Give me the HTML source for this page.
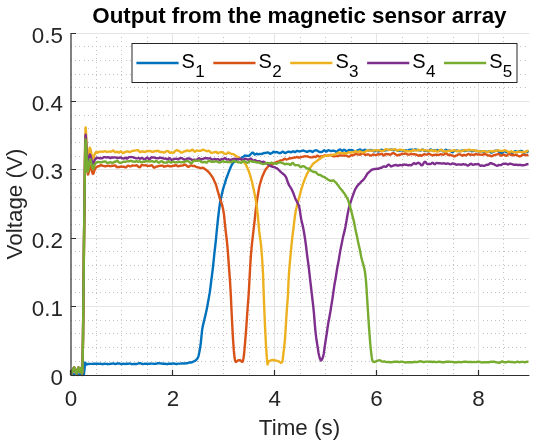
<!DOCTYPE html>
<html><head><meta charset="utf-8"><title>Output from the magnetic sensor array</title>
<style>html,body{margin:0;padding:0;background:#fff}body{width:550px;height:445px;overflow:hidden}</style>
</head><body>
<svg width="550" height="445" viewBox="0 0 550 445" style="display:block;font-family:'Liberation Sans',sans-serif">
<rect width="550" height="445" fill="#fff"/>
<path d="M96.5,33.0 V375.0 M121.5,33.0 V375.0 M147.5,33.0 V375.0 M198.5,33.0 V375.0 M223.5,33.0 V375.0 M249.5,33.0 V375.0 M300.5,33.0 V375.0 M325.5,33.0 V375.0 M351.5,33.0 V375.0 M402.5,33.0 V375.0 M427.5,33.0 V375.0 M453.5,33.0 V375.0 M503.5,33.0 V375.0 M71.0,361.5 H529.4 M71.0,347.5 H529.4 M71.0,333.5 H529.4 M71.0,320.5 H529.4 M71.0,292.5 H529.4 M71.0,279.5 H529.4 M71.0,265.5 H529.4 M71.0,251.5 H529.4 M71.0,224.5 H529.4 M71.0,210.5 H529.4 M71.0,197.5 H529.4 M71.0,183.5 H529.4 M71.0,156.5 H529.4 M71.0,142.5 H529.4 M71.0,128.5 H529.4 M71.0,115.5 H529.4 M71.0,87.5 H529.4 M71.0,74.5 H529.4 M71.0,60.5 H529.4 M71.0,46.5 H529.4" stroke="#c2c2c2" stroke-width="1" stroke-dasharray="1 3.2" fill="none" shape-rendering="crispEdges"/>
<path d="M172.5,33.0 V375.0 M274.5,33.0 V375.0 M376.5,33.0 V375.0 M478.5,33.0 V375.0 M71.0,306.5 H529.4 M71.0,238.5 H529.4 M71.0,169.5 H529.4 M71.0,101.5 H529.4 M71.0,33.5 H529.4" stroke="#e4e4e4" stroke-width="1" fill="none"/>
<path d="M71.0,375.0 L71.8,373.9 L72.5,373.5 L73.2,374.2 L74.0,375.0 L74.8,374.7 L75.5,374.2 L76.0,374.0 L76.2,374.0 L77.0,374.5 L77.8,375.0 L78.0,375.0 L78.5,374.8 L79.2,374.3 L80.0,374.0 L80.8,374.3 L81.5,374.8 L82.0,375.0 L82.2,375.0 L83.0,374.9 L83.8,374.6 L83.9,374.5 L84.5,369.1 L85.2,362.6 L85.2,362.6 L86.0,363.9 L86.5,364.5 L86.8,364.5 L87.5,364.1 L88.0,364.0 L88.2,364.0 L89.0,364.0 L89.8,363.9 L90.5,363.9 L91.2,363.9 L92.0,363.9 L92.8,363.9 L93.5,363.8 L94.2,363.8 L95.0,363.8 L95.8,363.8 L96.5,363.8 L97.2,363.6 L98.0,363.8 L98.8,363.9 L99.5,363.8 L100.2,363.8 L101.0,363.9 L101.8,364.0 L102.5,364.2 L103.2,364.0 L104.0,363.8 L104.8,363.8 L105.5,363.9 L106.2,363.9 L107.0,364.0 L107.8,364.0 L108.5,364.1 L109.2,364.1 L110.0,363.9 L110.8,363.7 L111.5,363.7 L112.2,363.6 L113.0,363.5 L113.8,363.5 L114.5,363.8 L115.2,364.0 L116.0,363.9 L116.8,363.6 L117.5,363.5 L118.2,363.5 L119.0,363.4 L119.8,363.5 L120.5,363.8 L121.2,364.1 L122.0,364.0 L122.8,363.8 L123.5,363.7 L124.2,363.9 L125.0,364.0 L125.8,363.9 L126.5,363.8 L127.2,363.8 L128.0,363.7 L128.8,363.6 L129.5,363.5 L130.2,363.6 L131.0,363.8 L131.8,364.1 L132.5,364.1 L133.2,364.0 L134.0,364.0 L134.8,364.0 L135.5,364.0 L136.2,364.0 L137.0,363.8 L137.8,363.6 L138.5,363.4 L139.2,363.2 L140.0,363.1 L140.8,363.3 L141.5,363.6 L142.2,364.0 L143.0,364.1 L143.8,363.9 L144.5,363.7 L145.2,363.8 L146.0,363.9 L146.8,363.8 L147.5,363.9 L148.2,363.9 L149.0,363.8 L149.8,363.7 L150.5,363.6 L151.2,363.6 L152.0,363.6 L152.8,363.6 L153.5,363.8 L154.2,363.9 L155.0,363.9 L155.8,363.8 L156.5,363.6 L157.2,363.4 L158.0,363.2 L158.8,363.3 L159.5,363.4 L160.2,363.4 L161.0,363.5 L161.8,363.5 L162.5,363.7 L163.2,363.8 L164.0,363.8 L164.8,363.8 L165.5,363.8 L166.2,364.0 L167.0,364.2 L167.8,364.0 L168.5,363.7 L169.2,363.6 L170.0,363.7 L170.8,363.8 L171.5,363.8 L172.2,363.6 L173.0,363.5 L173.8,363.4 L174.5,363.6 L175.2,363.9 L176.0,364.0 L176.8,364.0 L177.5,363.8 L178.2,363.6 L179.0,363.6 L179.8,363.6 L180.5,363.6 L181.2,363.6 L182.0,363.4 L182.8,363.3 L183.5,363.5 L184.2,363.6 L185.0,363.4 L185.8,363.3 L186.5,363.4 L187.2,363.3 L188.0,363.0 L188.8,362.7 L189.5,362.5 L190.2,362.4 L191.0,362.5 L191.8,362.4 L192.5,362.0 L193.2,361.7 L194.0,361.3 L194.8,360.9 L195.5,360.4 L196.2,359.8 L197.0,359.0 L197.8,357.9 L198.5,356.1 L199.2,352.8 L200.0,348.5 L200.8,343.1 L201.5,335.8 L202.2,329.3 L203.0,325.1 L203.8,321.9 L204.5,319.0 L205.2,316.1 L206.0,312.7 L206.8,309.1 L207.5,305.3 L208.2,301.3 L209.0,296.9 L209.8,292.2 L210.5,286.9 L211.2,281.2 L212.0,275.1 L212.8,268.7 L213.5,262.0 L214.2,255.1 L215.0,248.0 L215.8,240.8 L216.5,233.7 L217.2,226.6 L218.0,219.0 L218.8,212.0 L219.5,206.5 L220.2,201.9 L221.0,198.0 L221.8,194.6 L222.5,191.5 L223.2,188.6 L224.0,186.0 L224.8,183.5 L225.5,181.1 L226.2,178.8 L227.0,176.7 L227.8,174.6 L228.5,172.7 L229.2,170.8 L230.0,168.9 L230.8,167.1 L231.5,165.4 L232.2,164.1 L233.0,163.0 L233.8,162.2 L234.5,161.4 L235.2,160.7 L236.0,159.9 L236.8,159.3 L237.5,158.9 L238.2,158.6 L239.0,158.3 L239.8,158.3 L240.5,158.4 L241.2,158.1 L242.0,157.4 L242.8,157.0 L243.5,156.7 L244.2,156.0 L245.0,155.5 L245.8,155.6 L246.5,155.9 L247.2,155.9 L248.0,155.7 L248.8,155.7 L249.5,155.6 L250.2,154.8 L251.0,153.8 L251.8,153.1 L252.5,152.6 L253.2,152.6 L254.0,153.7 L254.8,154.6 L255.5,154.4 L256.2,153.8 L257.0,153.8 L257.8,154.3 L258.5,154.3 L259.2,154.0 L260.0,153.9 L260.8,153.9 L261.5,154.1 L262.2,153.9 L263.0,153.4 L263.8,153.0 L264.5,152.9 L265.2,153.0 L266.0,152.9 L266.8,152.6 L267.5,152.5 L268.2,152.5 L269.0,152.8 L269.8,153.6 L270.5,153.8 L271.2,153.3 L272.0,153.0 L272.8,152.3 L273.5,151.7 L274.2,152.0 L275.0,152.4 L275.8,152.3 L276.5,152.0 L277.2,152.1 L278.0,152.6 L278.8,153.0 L279.5,153.0 L280.2,153.0 L281.0,152.9 L281.8,152.2 L282.5,151.6 L283.2,151.7 L284.0,152.6 L284.8,153.1 L285.5,153.0 L286.2,152.6 L287.0,152.2 L287.8,151.8 L288.5,151.6 L289.2,151.6 L290.0,152.0 L290.8,152.4 L291.5,152.2 L292.2,151.6 L293.0,151.3 L293.8,151.6 L294.5,152.1 L295.2,152.1 L296.0,151.6 L296.8,151.0 L297.5,150.9 L298.2,151.2 L299.0,151.5 L299.8,151.4 L300.5,151.1 L301.2,151.0 L302.0,150.8 L302.8,150.5 L303.5,150.5 L304.2,150.9 L305.0,151.2 L305.8,151.4 L306.5,151.8 L307.2,151.9 L308.0,151.4 L308.8,151.0 L309.5,151.0 L310.2,150.9 L311.0,151.0 L311.8,151.6 L312.5,152.0 L313.2,151.5 L314.0,150.8 L314.8,150.5 L315.5,150.4 L316.2,150.3 L317.0,150.5 L317.8,151.0 L318.5,151.4 L319.2,151.8 L320.0,152.1 L320.8,152.0 L321.5,152.0 L322.2,151.9 L323.0,151.2 L323.8,150.4 L324.5,150.3 L325.2,151.0 L326.0,151.7 L326.8,151.4 L327.5,150.6 L328.2,150.2 L329.0,150.4 L329.8,150.7 L330.5,150.9 L331.2,151.0 L332.0,150.9 L332.8,150.8 L333.5,150.8 L334.2,150.9 L335.0,151.1 L335.8,151.6 L336.5,152.0 L337.2,151.5 L338.0,150.6 L338.8,150.0 L339.5,149.7 L340.2,149.5 L341.0,149.8 L341.8,150.7 L342.5,151.0 L343.2,150.4 L344.0,149.8 L344.8,149.9 L345.5,150.5 L346.2,151.4 L347.0,151.8 L347.8,151.2 L348.5,150.2 L349.2,149.9 L350.0,150.1 L350.8,150.1 L351.5,150.0 L352.2,150.1 L353.0,150.5 L353.8,151.2 L354.5,151.6 L355.2,151.4 L356.0,151.0 L356.8,150.7 L357.5,150.5 L358.2,150.2 L359.0,149.8 L359.8,149.5 L360.5,149.7 L361.2,150.4 L362.0,150.7 L362.8,150.8 L363.5,150.5 L364.2,149.9 L365.0,149.8 L365.8,150.4 L366.5,150.7 L367.2,150.8 L368.0,150.9 L368.8,150.5 L369.5,149.9 L370.2,150.0 L371.0,150.5 L371.8,150.4 L372.5,150.3 L373.2,150.9 L374.0,151.4 L374.8,151.3 L375.5,150.7 L376.2,150.3 L377.0,150.7 L377.8,151.4 L378.5,151.5 L379.2,151.2 L380.0,150.6 L380.8,150.0 L381.5,149.7 L382.2,150.0 L383.0,150.4 L383.8,150.5 L384.5,150.7 L385.2,150.5 L386.0,150.0 L386.8,149.8 L387.5,150.0 L388.2,150.0 L389.0,149.9 L389.8,149.8 L390.5,149.6 L391.2,149.5 L392.0,149.6 L392.8,150.1 L393.5,150.3 L394.2,150.0 L395.0,149.8 L395.8,149.9 L396.5,150.1 L397.2,150.5 L398.0,150.8 L398.8,150.9 L399.5,150.7 L400.2,150.5 L401.0,150.3 L401.8,150.3 L402.5,150.6 L403.2,150.7 L404.0,150.7 L404.8,150.4 L405.5,150.1 L406.2,150.3 L407.0,150.7 L407.8,150.7 L408.5,150.3 L409.2,149.9 L410.0,149.8 L410.8,149.9 L411.5,149.6 L412.2,149.5 L413.0,150.1 L413.8,150.4 L414.5,149.8 L415.2,149.4 L416.0,149.5 L416.8,149.8 L417.5,150.1 L418.2,150.1 L419.0,150.2 L419.8,150.5 L420.5,150.5 L421.2,150.3 L422.0,149.8 L422.8,149.5 L423.5,150.0 L424.2,150.8 L425.0,151.0 L425.8,150.9 L426.5,150.9 L427.2,151.0 L428.0,151.3 L428.8,151.2 L429.5,150.3 L430.2,149.5 L431.0,149.5 L431.8,150.0 L432.5,150.8 L433.2,150.9 L434.0,150.3 L434.8,150.0 L435.5,150.4 L436.2,150.5 L437.0,150.0 L437.8,150.2 L438.5,150.6 L439.2,150.7 L440.0,150.4 L440.8,150.0 L441.5,149.9 L442.2,150.5 L443.0,151.4 L443.8,151.5 L444.5,150.7 L445.2,150.0 L446.0,149.7 L446.8,150.2 L447.5,150.7 L448.2,150.8 L449.0,150.6 L449.8,150.5 L450.5,150.8 L451.2,151.5 L452.0,152.2 L452.8,152.2 L453.5,151.5 L454.2,150.8 L455.0,150.7 L455.8,150.6 L456.5,150.5 L457.2,150.6 L458.0,150.8 L458.8,151.1 L459.5,151.3 L460.2,151.2 L461.0,150.9 L461.8,150.6 L462.5,150.5 L463.2,150.7 L464.0,150.9 L464.8,151.1 L465.5,150.9 L466.2,150.6 L467.0,150.5 L467.8,150.4 L468.5,150.4 L469.2,150.3 L470.0,150.3 L470.8,150.8 L471.5,151.2 L472.2,151.2 L473.0,151.0 L473.8,150.8 L474.5,150.7 L475.2,150.8 L476.0,151.0 L476.8,151.0 L477.5,151.0 L478.2,151.3 L479.0,151.5 L479.8,151.4 L480.5,151.3 L481.2,151.2 L482.0,151.1 L482.8,151.4 L483.5,151.8 L484.2,151.9 L485.0,151.7 L485.8,151.4 L486.5,151.6 L487.2,151.9 L488.0,151.9 L488.8,151.5 L489.5,151.4 L490.2,151.9 L491.0,152.6 L491.8,152.5 L492.5,151.9 L493.2,151.4 L494.0,151.5 L494.8,151.1 L495.5,150.6 L496.2,150.6 L497.0,150.6 L497.8,150.7 L498.5,151.4 L499.2,152.0 L500.0,152.3 L500.8,152.7 L501.5,153.2 L502.2,153.1 L503.0,152.3 L503.8,151.5 L504.5,151.1 L505.2,151.4 L506.0,152.0 L506.8,152.3 L507.5,152.4 L508.2,152.3 L509.0,152.0 L509.8,152.1 L510.5,152.6 L511.2,152.9 L512.0,152.9 L512.8,152.6 L513.5,152.2 L514.2,151.8 L515.0,151.3 L515.8,151.3 L516.5,151.8 L517.2,152.1 L518.0,151.8 L518.8,151.3 L519.5,151.3 L520.2,151.2 L521.0,150.9 L521.8,150.9 L522.5,151.7 L523.2,152.5 L524.0,152.5 L524.8,152.3 L525.5,152.2 L526.2,151.8 L527.0,151.3 L527.8,151.9 L528.5,152.4" stroke="#0072BD" stroke-width="2.4" fill="none" stroke-linejoin="round" stroke-linecap="butt"/>
<path d="M71.0,375.0 L71.8,373.1 L72.5,371.2 L72.6,371.0 L73.2,369.2 L74.0,367.6 L74.2,367.5 L74.8,368.7 L75.4,371.0 L75.5,371.3 L76.2,373.3 L76.5,373.5 L77.0,372.1 L77.5,370.0 L77.8,369.2 L78.5,367.5 L79.2,370.9 L79.6,372.0 L80.0,371.2 L80.8,368.3 L81.0,368.0 L81.5,371.2 L81.9,373.5 L82.2,372.7 L82.4,372.0 L83.0,338.3 L83.8,262.0 L83.9,250.0 L84.5,201.2 L85.2,149.8 L85.6,142.0 L86.0,145.5 L86.8,159.3 L86.8,160.0 L87.5,170.7 L88.0,174.6 L88.2,174.3 L89.0,171.1 L89.8,167.1 L90.3,165.8 L90.5,165.9 L91.2,168.1 L92.0,171.5 L92.8,173.8 L93.0,174.0 L93.5,173.4 L94.2,171.0 L95.0,169.0 L95.8,167.9 L96.5,167.0 L97.2,166.9 L97.4,166.6 L98.0,166.2 L98.8,166.2 L99.5,166.1 L100.2,165.6 L101.0,165.1 L101.8,165.3 L102.5,165.8 L103.2,165.9 L104.0,166.0 L104.8,166.3 L105.5,166.4 L106.2,166.2 L107.0,166.0 L107.8,165.7 L108.5,165.6 L109.2,165.8 L110.0,166.2 L110.8,166.1 L111.5,165.8 L112.2,165.8 L113.0,165.9 L113.8,165.8 L114.5,165.4 L115.2,165.4 L116.0,166.3 L116.8,167.2 L117.5,167.1 L118.2,166.8 L119.0,167.0 L119.8,167.0 L120.5,166.6 L121.2,166.4 L122.0,166.7 L122.8,166.7 L123.5,166.6 L124.2,166.8 L125.0,167.3 L125.8,167.4 L126.5,166.9 L127.2,166.2 L128.0,165.7 L128.8,165.9 L129.5,166.2 L130.2,166.4 L131.0,166.3 L131.8,165.8 L132.5,165.4 L133.2,165.6 L134.0,165.6 L134.8,165.6 L135.5,165.5 L136.2,165.3 L137.0,165.4 L137.8,166.1 L138.5,166.8 L139.2,167.2 L140.0,167.1 L140.8,166.2 L141.5,165.2 L142.2,164.9 L143.0,165.1 L143.8,165.4 L144.5,165.4 L145.2,165.3 L146.0,165.3 L146.8,165.5 L147.5,165.8 L148.2,165.9 L149.0,165.9 L149.8,165.8 L150.5,165.6 L151.2,165.3 L152.0,165.4 L152.8,166.2 L153.5,167.3 L154.2,167.7 L155.0,167.4 L155.8,166.8 L156.5,166.5 L157.2,166.5 L158.0,166.3 L158.8,166.0 L159.5,165.9 L160.2,165.8 L161.0,165.7 L161.8,165.6 L162.5,165.6 L163.2,166.1 L164.0,166.7 L164.8,166.5 L165.5,166.2 L166.2,166.2 L167.0,166.0 L167.8,165.7 L168.5,165.8 L169.2,166.2 L170.0,166.3 L170.8,166.4 L171.5,166.4 L172.2,166.0 L173.0,165.8 L173.8,165.8 L174.5,165.7 L175.2,165.2 L176.0,165.1 L176.8,165.5 L177.5,166.1 L178.2,166.4 L179.0,166.2 L179.8,165.8 L180.5,165.7 L181.2,165.6 L182.0,165.6 L182.8,165.5 L183.5,165.0 L184.2,164.7 L185.0,164.8 L185.8,165.0 L186.5,165.5 L187.2,166.2 L188.0,166.7 L188.8,166.8 L189.5,166.2 L190.2,165.6 L191.0,165.4 L191.8,165.5 L192.5,165.8 L193.2,166.1 L194.0,165.9 L194.8,166.0 L195.5,166.5 L196.2,166.9 L197.0,167.1 L197.8,167.3 L198.5,167.5 L199.2,167.7 L200.0,168.0 L200.8,168.1 L201.5,168.0 L202.2,167.8 L203.0,167.8 L203.8,168.2 L204.5,168.8 L205.2,169.2 L206.0,169.8 L206.8,170.4 L207.5,170.9 L208.2,171.6 L209.0,172.5 L209.8,173.4 L210.5,174.4 L211.2,175.4 L212.0,176.5 L212.8,177.7 L213.5,179.1 L214.2,180.7 L215.0,182.4 L215.8,184.3 L216.5,186.5 L217.2,189.1 L218.0,191.9 L218.8,194.7 L219.5,197.3 L220.2,199.5 L221.0,201.7 L221.8,204.1 L222.5,206.7 L223.2,209.7 L224.0,214.6 L224.8,222.5 L225.5,229.3 L226.2,235.2 L227.0,242.0 L227.8,250.8 L228.5,260.7 L229.2,270.3 L230.0,280.8 L230.8,294.8 L231.5,310.0 L232.2,324.3 L233.0,338.8 L233.8,350.2 L234.5,357.3 L235.2,361.1 L236.0,362.0 L236.8,361.4 L237.5,360.8 L238.2,360.4 L239.0,360.1 L239.8,360.1 L240.5,360.6 L241.2,361.2 L242.0,361.9 L242.8,361.5 L243.5,358.0 L244.2,352.8 L245.0,343.7 L245.8,333.9 L246.5,324.3 L247.2,313.9 L248.0,303.0 L248.8,292.6 L249.5,279.1 L250.2,266.2 L251.0,254.2 L251.8,245.5 L252.5,238.9 L253.2,232.8 L254.0,226.2 L254.8,219.1 L255.5,212.2 L256.2,206.0 L257.0,200.5 L257.8,195.5 L258.5,191.2 L259.2,187.3 L260.0,184.0 L260.8,181.3 L261.5,179.0 L262.2,176.9 L263.0,175.0 L263.8,173.2 L264.5,171.6 L265.2,170.2 L266.0,169.0 L266.8,168.0 L267.5,167.2 L268.2,166.4 L269.0,165.7 L269.8,165.2 L270.5,165.0 L271.2,165.0 L272.0,164.7 L272.8,164.0 L273.5,163.4 L274.2,163.0 L275.0,162.8 L275.8,162.4 L276.5,162.0 L277.2,161.8 L278.0,161.7 L278.8,161.5 L279.5,161.0 L280.2,160.5 L281.0,160.4 L281.8,160.4 L282.5,160.2 L283.2,159.7 L284.0,159.0 L284.8,158.7 L285.5,159.2 L286.2,159.5 L287.0,159.3 L287.8,159.1 L288.5,158.9 L289.2,158.4 L290.0,158.1 L290.8,158.2 L291.5,158.2 L292.2,158.0 L293.0,157.9 L293.8,157.6 L294.5,157.5 L295.2,157.6 L296.0,157.3 L296.8,156.9 L297.5,157.1 L298.2,157.6 L299.0,157.7 L299.8,157.4 L300.5,157.3 L301.2,157.1 L302.0,156.9 L302.8,156.8 L303.5,156.6 L304.2,156.4 L305.0,156.3 L305.8,156.4 L306.5,156.4 L307.2,156.3 L308.0,156.5 L308.8,156.9 L309.5,157.1 L310.2,157.2 L311.0,157.4 L311.8,157.4 L312.5,157.3 L313.2,156.8 L314.0,156.6 L314.8,156.8 L315.5,157.1 L316.2,156.7 L317.0,155.7 L317.8,155.6 L318.5,156.2 L319.2,156.6 L320.0,156.6 L320.8,156.4 L321.5,156.4 L322.2,156.4 L323.0,156.2 L323.8,155.8 L324.5,155.4 L325.2,155.4 L326.0,155.7 L326.8,155.9 L327.5,155.7 L328.2,155.5 L329.0,155.4 L329.8,155.1 L330.5,154.8 L331.2,154.9 L332.0,155.5 L332.8,156.1 L333.5,156.3 L334.2,156.2 L335.0,156.2 L335.8,156.0 L336.5,155.9 L337.2,156.1 L338.0,156.1 L338.8,155.7 L339.5,155.5 L340.2,155.4 L341.0,155.4 L341.8,155.5 L342.5,155.6 L343.2,155.6 L344.0,155.5 L344.8,155.4 L345.5,155.5 L346.2,155.7 L347.0,156.0 L347.8,156.4 L348.5,156.6 L349.2,156.5 L350.0,156.0 L350.8,155.4 L351.5,155.2 L352.2,155.3 L353.0,155.3 L353.8,155.1 L354.5,154.6 L355.2,154.2 L356.0,154.0 L356.8,154.1 L357.5,154.4 L358.2,154.5 L359.0,154.5 L359.8,154.7 L360.5,154.5 L361.2,153.9 L362.0,153.5 L362.8,153.4 L363.5,153.5 L364.2,154.2 L365.0,154.8 L365.8,154.8 L366.5,154.6 L367.2,154.4 L368.0,154.5 L368.8,154.7 L369.5,154.9 L370.2,155.4 L371.0,155.6 L371.8,155.2 L372.5,154.7 L373.2,154.5 L374.0,154.6 L374.8,154.8 L375.5,155.0 L376.2,155.1 L377.0,154.8 L377.8,154.2 L378.5,154.2 L379.2,154.5 L380.0,154.3 L380.8,154.0 L381.5,153.8 L382.2,154.0 L383.0,154.8 L383.8,155.5 L384.5,155.2 L385.2,154.2 L386.0,153.9 L386.8,154.1 L387.5,154.4 L388.2,154.2 L389.0,154.3 L389.8,154.7 L390.5,154.7 L391.2,154.1 L392.0,153.5 L392.8,153.1 L393.5,153.1 L394.2,153.4 L395.0,153.9 L395.8,154.5 L396.5,155.0 L397.2,155.5 L398.0,155.2 L398.8,154.7 L399.5,154.8 L400.2,154.8 L401.0,154.2 L401.8,153.8 L402.5,153.8 L403.2,153.9 L404.0,153.9 L404.8,153.4 L405.5,153.4 L406.2,153.8 L407.0,154.3 L407.8,154.5 L408.5,154.6 L409.2,154.6 L410.0,154.3 L410.8,153.9 L411.5,153.8 L412.2,154.1 L413.0,154.3 L413.8,154.3 L414.5,154.1 L415.2,154.3 L416.0,154.7 L416.8,154.8 L417.5,155.1 L418.2,155.7 L419.0,155.6 L419.8,155.0 L420.5,155.2 L421.2,155.8 L422.0,155.6 L422.8,155.0 L423.5,154.5 L424.2,154.3 L425.0,154.3 L425.8,154.5 L426.5,154.6 L427.2,154.4 L428.0,154.1 L428.8,154.0 L429.5,154.0 L430.2,154.2 L431.0,154.7 L431.8,155.1 L432.5,155.2 L433.2,155.2 L434.0,155.0 L434.8,154.8 L435.5,154.7 L436.2,154.7 L437.0,154.8 L437.8,154.8 L438.5,155.0 L439.2,154.8 L440.0,154.4 L440.8,154.2 L441.5,154.3 L442.2,154.5 L443.0,154.7 L443.8,154.7 L444.5,154.1 L445.2,153.4 L446.0,153.4 L446.8,153.7 L447.5,154.5 L448.2,155.1 L449.0,155.0 L449.8,154.5 L450.5,154.8 L451.2,155.4 L452.0,155.5 L452.8,155.6 L453.5,156.1 L454.2,156.5 L455.0,156.2 L455.8,155.6 L456.5,155.3 L457.2,155.0 L458.0,154.6 L458.8,154.3 L459.5,154.4 L460.2,154.5 L461.0,154.9 L461.8,155.4 L462.5,155.7 L463.2,155.2 L464.0,154.9 L464.8,155.0 L465.5,155.3 L466.2,155.3 L467.0,154.7 L467.8,154.1 L468.5,153.9 L469.2,154.3 L470.0,154.8 L470.8,154.8 L471.5,154.5 L472.2,154.6 L473.0,154.9 L473.8,155.0 L474.5,154.7 L475.2,154.2 L476.0,154.0 L476.8,154.3 L477.5,154.6 L478.2,154.4 L479.0,154.4 L479.8,154.7 L480.5,154.6 L481.2,154.6 L482.0,154.7 L482.8,154.8 L483.5,154.4 L484.2,154.1 L485.0,154.2 L485.8,154.4 L486.5,154.6 L487.2,155.1 L488.0,155.5 L488.8,155.5 L489.5,155.4 L490.2,155.7 L491.0,156.1 L491.8,156.2 L492.5,155.9 L493.2,155.4 L494.0,155.1 L494.8,154.9 L495.5,154.7 L496.2,154.6 L497.0,154.5 L497.8,154.2 L498.5,154.0 L499.2,154.2 L500.0,154.9 L500.8,155.5 L501.5,155.6 L502.2,155.2 L503.0,154.8 L503.8,154.7 L504.5,154.9 L505.2,155.2 L506.0,155.6 L506.8,155.7 L507.5,155.0 L508.2,154.2 L509.0,153.8 L509.8,153.9 L510.5,154.4 L511.2,155.0 L512.0,155.0 L512.8,154.8 L513.5,155.2 L514.2,155.4 L515.0,155.0 L515.8,154.7 L516.5,154.8 L517.2,155.2 L518.0,155.7 L518.8,156.1 L519.5,156.3 L520.2,156.3 L521.0,156.0 L521.8,155.3 L522.5,154.7 L523.2,154.7 L524.0,154.9 L524.8,155.1 L525.5,155.1 L526.2,154.9 L527.0,155.0 L527.8,155.4 L528.5,155.3" stroke="#D95319" stroke-width="2.4" fill="none" stroke-linejoin="round" stroke-linecap="butt"/>
<path d="M71.0,375.0 L71.8,373.1 L72.5,371.2 L72.6,371.0 L73.2,369.2 L74.0,367.6 L74.2,367.5 L74.8,368.7 L75.4,371.0 L75.5,371.3 L76.2,373.3 L76.5,373.5 L77.0,372.1 L77.5,370.0 L77.8,369.2 L78.5,367.5 L79.2,370.9 L79.6,372.0 L80.0,371.2 L80.8,368.3 L81.0,368.0 L81.5,371.2 L81.9,373.5 L82.2,372.7 L82.4,372.0 L83.0,339.0 L83.8,262.6 L83.9,250.0 L84.5,195.7 L85.2,136.5 L85.6,127.4 L86.0,131.8 L86.8,149.1 L86.8,150.0 L87.5,161.9 L87.7,163.0 L88.2,160.1 L89.0,151.9 L89.7,147.6 L89.8,147.6 L90.5,149.3 L91.2,152.8 L92.0,156.5 L92.8,158.8 L93.0,159.0 L93.5,158.3 L94.2,155.7 L95.0,153.5 L95.8,152.4 L96.5,151.7 L96.7,151.7 L97.2,152.8 L98.0,152.5 L98.8,152.0 L99.5,151.7 L100.2,151.7 L101.0,151.6 L101.8,151.6 L102.5,151.8 L103.2,151.8 L104.0,151.4 L104.8,151.2 L105.5,151.4 L106.2,151.7 L107.0,152.0 L107.8,151.9 L108.5,151.7 L109.2,151.5 L110.0,151.6 L110.8,151.7 L111.5,151.6 L112.2,151.1 L113.0,150.5 L113.8,150.9 L114.5,151.8 L115.2,152.3 L116.0,152.1 L116.8,151.7 L117.5,151.7 L118.2,152.3 L119.0,152.6 L119.8,152.0 L120.5,151.4 L121.2,151.4 L122.0,152.3 L122.8,153.1 L123.5,153.0 L124.2,152.6 L125.0,152.1 L125.8,151.7 L126.5,151.6 L127.2,151.4 L128.0,151.4 L128.8,151.8 L129.5,152.1 L130.2,152.0 L131.0,151.6 L131.8,151.1 L132.5,150.9 L133.2,150.9 L134.0,150.8 L134.8,150.5 L135.5,150.4 L136.2,150.4 L137.0,150.2 L137.8,150.1 L138.5,150.6 L139.2,151.4 L140.0,152.1 L140.8,152.1 L141.5,151.5 L142.2,151.3 L143.0,151.6 L143.8,151.7 L144.5,151.9 L145.2,152.0 L146.0,151.5 L146.8,150.9 L147.5,150.9 L148.2,151.3 L149.0,151.3 L149.8,150.9 L150.5,151.1 L151.2,151.6 L152.0,151.8 L152.8,151.7 L153.5,151.7 L154.2,151.5 L155.0,151.0 L155.8,151.1 L156.5,151.2 L157.2,150.9 L158.0,150.6 L158.8,151.2 L159.5,151.9 L160.2,152.0 L161.0,151.8 L161.8,152.0 L162.5,152.0 L163.2,152.3 L164.0,152.5 L164.8,152.3 L165.5,151.8 L166.2,151.4 L167.0,151.2 L167.8,151.0 L168.5,151.3 L169.2,152.3 L170.0,152.8 L170.8,152.6 L171.5,152.3 L172.2,152.6 L173.0,152.9 L173.8,152.6 L174.5,151.8 L175.2,151.0 L176.0,150.5 L176.8,150.2 L177.5,150.3 L178.2,150.8 L179.0,151.1 L179.8,151.4 L180.5,152.0 L181.2,152.6 L182.0,152.6 L182.8,152.2 L183.5,151.8 L184.2,151.4 L185.0,151.2 L185.8,151.1 L186.5,150.7 L187.2,150.4 L188.0,150.5 L188.8,151.0 L189.5,151.2 L190.2,150.9 L191.0,150.4 L191.8,149.9 L192.5,149.7 L193.2,150.2 L194.0,151.3 L194.8,151.7 L195.5,151.2 L196.2,150.6 L197.0,150.5 L197.8,150.7 L198.5,150.9 L199.2,150.9 L200.0,150.9 L200.8,150.8 L201.5,150.4 L202.2,150.0 L203.0,149.8 L203.8,149.9 L204.5,150.2 L205.2,150.5 L206.0,150.8 L206.8,151.1 L207.5,151.2 L208.2,150.9 L209.0,150.8 L209.8,151.4 L210.5,152.3 L211.2,152.9 L212.0,152.8 L212.8,152.6 L213.5,152.4 L214.2,152.3 L215.0,152.2 L215.8,151.8 L216.5,152.0 L217.2,153.0 L218.0,153.3 L218.8,152.7 L219.5,152.4 L220.2,152.4 L221.0,152.2 L221.8,152.0 L222.5,152.3 L223.2,152.9 L224.0,153.4 L224.8,153.7 L225.5,153.9 L226.2,153.9 L227.0,153.4 L227.8,152.8 L228.5,152.4 L229.2,152.8 L230.0,153.4 L230.8,153.7 L231.5,153.9 L232.2,154.0 L233.0,154.1 L233.8,154.5 L234.5,154.9 L235.2,155.5 L236.0,156.2 L236.8,156.5 L237.5,156.7 L238.2,157.1 L239.0,157.7 L239.8,158.4 L240.5,159.0 L241.2,159.6 L242.0,160.1 L242.8,160.7 L243.5,161.5 L244.2,162.4 L245.0,163.5 L245.8,164.6 L246.5,165.9 L247.2,167.5 L248.0,169.3 L248.8,171.3 L249.5,173.4 L250.2,175.7 L251.0,178.3 L251.8,181.0 L252.5,184.0 L253.2,187.3 L254.0,190.9 L254.8,194.7 L255.5,198.6 L256.2,202.9 L257.0,208.0 L257.8,215.1 L258.5,223.4 L259.2,231.4 L260.0,237.4 L260.8,243.1 L261.5,250.3 L262.2,260.0 L263.0,273.4 L263.8,296.4 L264.5,314.2 L265.2,329.8 L266.0,345.6 L266.8,357.2 L267.5,364.5 L268.2,362.7 L269.0,361.1 L269.8,360.8 L270.5,360.5 L271.2,360.3 L272.0,360.2 L272.8,360.0 L273.5,359.9 L274.2,360.3 L275.0,360.5 L275.8,360.5 L276.5,360.6 L277.2,360.9 L278.0,361.2 L278.8,361.4 L279.5,361.8 L280.2,362.4 L281.0,362.9 L281.8,362.5 L282.5,361.2 L283.2,355.7 L284.0,348.6 L284.8,341.3 L285.5,331.6 L286.2,319.5 L287.0,307.6 L287.8,297.5 L288.5,281.8 L289.2,270.2 L290.0,260.8 L290.8,252.6 L291.5,245.1 L292.2,238.4 L293.0,232.0 L293.8,225.3 L294.5,219.3 L295.2,214.2 L296.0,210.0 L296.8,206.5 L297.5,203.5 L298.2,200.8 L299.0,198.0 L299.8,195.2 L300.5,192.4 L301.2,189.7 L302.0,187.1 L302.8,184.7 L303.5,182.6 L304.2,180.6 L305.0,178.6 L305.8,176.8 L306.5,175.1 L307.2,173.5 L308.0,172.0 L308.8,170.6 L309.5,169.2 L310.2,167.9 L311.0,166.7 L311.8,165.6 L312.5,164.6 L313.2,163.7 L314.0,163.0 L314.8,162.4 L315.5,161.9 L316.2,161.5 L317.0,160.9 L317.8,160.3 L318.5,159.8 L319.2,159.3 L320.0,158.7 L320.8,158.2 L321.5,157.6 L322.2,157.0 L323.0,156.8 L323.8,156.6 L324.5,156.1 L325.2,155.7 L326.0,155.7 L326.8,155.9 L327.5,155.7 L328.2,155.4 L329.0,155.2 L329.8,155.1 L330.5,155.2 L331.2,155.3 L332.0,155.0 L332.8,154.8 L333.5,154.9 L334.2,154.6 L335.0,154.5 L335.8,154.5 L336.5,154.0 L337.2,153.2 L338.0,152.8 L338.8,152.8 L339.5,152.7 L340.2,152.8 L341.0,153.0 L341.8,153.1 L342.5,153.1 L343.2,153.2 L344.0,153.2 L344.8,153.1 L345.5,153.4 L346.2,153.6 L347.0,153.3 L347.8,152.7 L348.5,152.3 L349.2,152.3 L350.0,152.6 L350.8,152.6 L351.5,152.3 L352.2,152.3 L353.0,152.4 L353.8,152.2 L354.5,151.7 L355.2,151.3 L356.0,151.3 L356.8,151.9 L357.5,152.3 L358.2,151.9 L359.0,151.4 L359.8,151.3 L360.5,151.5 L361.2,151.9 L362.0,152.3 L362.8,152.5 L363.5,152.4 L364.2,152.2 L365.0,151.9 L365.8,151.3 L366.5,150.8 L367.2,150.7 L368.0,150.7 L368.8,150.5 L369.5,150.3 L370.2,150.6 L371.0,150.7 L371.8,150.6 L372.5,150.6 L373.2,150.7 L374.0,150.5 L374.8,150.2 L375.5,150.2 L376.2,150.5 L377.0,150.6 L377.8,150.3 L378.5,150.1 L379.2,150.2 L380.0,150.5 L380.8,150.8 L381.5,150.9 L382.2,151.1 L383.0,151.1 L383.8,150.7 L384.5,150.2 L385.2,149.5 L386.0,149.1 L386.8,149.2 L387.5,149.6 L388.2,149.9 L389.0,149.9 L389.8,149.7 L390.5,149.6 L391.2,149.6 L392.0,149.6 L392.8,149.6 L393.5,149.5 L394.2,149.3 L395.0,149.3 L395.8,149.6 L396.5,150.2 L397.2,150.6 L398.0,150.4 L398.8,149.9 L399.5,149.7 L400.2,149.8 L401.0,149.8 L401.8,149.9 L402.5,150.2 L403.2,150.2 L404.0,150.2 L404.8,150.6 L405.5,151.0 L406.2,151.2 L407.0,151.2 L407.8,151.2 L408.5,151.4 L409.2,151.4 L410.0,151.2 L410.8,151.1 L411.5,150.9 L412.2,150.4 L413.0,150.1 L413.8,150.2 L414.5,150.3 L415.2,150.3 L416.0,150.5 L416.8,150.6 L417.5,150.2 L418.2,149.7 L419.0,150.0 L419.8,150.4 L420.5,150.2 L421.2,149.8 L422.0,149.7 L422.8,150.0 L423.5,150.4 L424.2,150.3 L425.0,150.2 L425.8,150.4 L426.5,150.6 L427.2,150.6 L428.0,150.4 L428.8,150.7 L429.5,151.0 L430.2,150.6 L431.0,150.1 L431.8,150.1 L432.5,150.5 L433.2,151.2 L434.0,151.2 L434.8,150.5 L435.5,150.3 L436.2,151.0 L437.0,151.5 L437.8,151.6 L438.5,151.2 L439.2,150.5 L440.0,150.0 L440.8,149.7 L441.5,150.0 L442.2,150.6 L443.0,151.2 L443.8,151.5 L444.5,151.2 L445.2,151.0 L446.0,151.4 L446.8,151.6 L447.5,151.2 L448.2,150.7 L449.0,150.9 L449.8,151.1 L450.5,150.8 L451.2,150.7 L452.0,150.9 L452.8,150.7 L453.5,150.3 L454.2,150.2 L455.0,150.4 L455.8,150.8 L456.5,151.2 L457.2,151.4 L458.0,151.0 L458.8,150.7 L459.5,150.9 L460.2,151.4 L461.0,151.5 L461.8,151.2 L462.5,150.8 L463.2,150.6 L464.0,150.5 L464.8,150.1 L465.5,150.0 L466.2,150.4 L467.0,150.5 L467.8,150.2 L468.5,149.8 L469.2,149.7 L470.0,149.9 L470.8,150.3 L471.5,150.3 L472.2,150.2 L473.0,150.3 L473.8,150.3 L474.5,150.4 L475.2,150.8 L476.0,150.8 L476.8,150.8 L477.5,151.1 L478.2,151.1 L479.0,151.2 L479.8,151.5 L480.5,151.6 L481.2,151.4 L482.0,151.3 L482.8,151.2 L483.5,151.2 L484.2,151.1 L485.0,151.3 L485.8,151.8 L486.5,151.9 L487.2,151.9 L488.0,152.1 L488.8,151.7 L489.5,151.2 L490.2,151.0 L491.0,151.2 L491.8,151.6 L492.5,151.6 L493.2,151.1 L494.0,150.9 L494.8,151.0 L495.5,150.9 L496.2,150.8 L497.0,150.6 L497.8,150.3 L498.5,150.4 L499.2,150.7 L500.0,150.9 L500.8,150.9 L501.5,150.9 L502.2,151.0 L503.0,150.9 L503.8,150.5 L504.5,150.2 L505.2,150.4 L506.0,150.7 L506.8,151.0 L507.5,151.4 L508.2,152.0 L509.0,152.3 L509.8,152.1 L510.5,151.5 L511.2,151.2 L512.0,151.6 L512.8,151.9 L513.5,152.0 L514.2,152.1 L515.0,152.2 L515.8,152.2 L516.5,152.1 L517.2,152.0 L518.0,151.8 L518.8,151.8 L519.5,151.8 L520.2,151.9 L521.0,151.9 L521.8,152.1 L522.5,152.1 L523.2,151.9 L524.0,151.8 L524.8,151.9 L525.5,152.0 L526.2,151.5 L527.0,150.8 L527.8,150.9 L528.5,151.3" stroke="#EDB120" stroke-width="2.4" fill="none" stroke-linejoin="round" stroke-linecap="butt"/>
<path d="M71.0,375.0 L71.8,373.1 L72.5,371.2 L72.6,371.0 L73.2,369.2 L74.0,367.6 L74.2,367.5 L74.8,368.7 L75.4,371.0 L75.5,371.3 L76.2,373.3 L76.5,373.5 L77.0,372.1 L77.5,370.0 L77.8,369.2 L78.5,367.5 L79.2,370.9 L79.6,372.0 L80.0,371.2 L80.8,368.3 L81.0,368.0 L81.5,371.2 L81.9,373.5 L82.2,372.7 L82.4,372.0 L83.0,338.6 L83.8,262.3 L83.9,250.0 L84.5,198.5 L85.2,143.2 L85.6,134.8 L86.0,138.7 L86.8,154.2 L86.8,155.0 L87.5,166.9 L87.7,168.0 L88.2,165.5 L89.0,158.2 L89.7,154.4 L89.8,154.4 L90.5,155.8 L91.2,158.8 L92.0,161.9 L92.8,163.8 L93.0,164.0 L93.5,163.4 L94.2,161.3 L95.0,159.5 L95.8,158.5 L96.5,157.8 L96.7,157.8 L97.2,158.1 L98.0,157.9 L98.8,158.0 L99.5,158.2 L100.2,158.2 L101.0,158.2 L101.8,158.4 L102.5,158.2 L103.2,157.6 L104.0,157.1 L104.8,157.1 L105.5,157.4 L106.2,157.5 L107.0,157.4 L107.8,157.3 L108.5,157.3 L109.2,157.6 L110.0,158.1 L110.8,158.0 L111.5,157.4 L112.2,157.3 L113.0,157.6 L113.8,157.6 L114.5,157.4 L115.2,157.4 L116.0,157.5 L116.8,157.9 L117.5,158.0 L118.2,157.9 L119.0,157.8 L119.8,157.5 L120.5,157.4 L121.2,157.8 L122.0,158.1 L122.8,158.3 L123.5,158.5 L124.2,158.3 L125.0,157.8 L125.8,157.9 L126.5,158.6 L127.2,158.6 L128.0,157.8 L128.8,157.2 L129.5,157.1 L130.2,157.1 L131.0,157.0 L131.8,157.1 L132.5,157.1 L133.2,157.3 L134.0,157.8 L134.8,157.9 L135.5,158.1 L136.2,158.4 L137.0,158.4 L137.8,158.2 L138.5,158.0 L139.2,158.2 L140.0,158.7 L140.8,158.5 L141.5,158.0 L142.2,158.1 L143.0,158.6 L143.8,159.1 L144.5,159.4 L145.2,159.1 L146.0,158.3 L146.8,157.8 L147.5,157.7 L148.2,158.2 L149.0,158.9 L149.8,159.2 L150.5,158.4 L151.2,157.4 L152.0,157.3 L152.8,157.5 L153.5,157.4 L154.2,157.5 L155.0,157.9 L155.8,158.2 L156.5,158.1 L157.2,158.1 L158.0,158.3 L158.8,158.1 L159.5,157.7 L160.2,157.6 L161.0,157.8 L161.8,158.0 L162.5,158.0 L163.2,158.3 L164.0,158.7 L164.8,158.6 L165.5,158.5 L166.2,158.7 L167.0,159.3 L167.8,159.4 L168.5,158.7 L169.2,158.1 L170.0,158.3 L170.8,159.3 L171.5,159.9 L172.2,159.8 L173.0,159.5 L173.8,159.0 L174.5,158.8 L175.2,158.9 L176.0,158.8 L176.8,158.8 L177.5,159.2 L178.2,159.3 L179.0,158.6 L179.8,158.3 L180.5,158.3 L181.2,158.1 L182.0,158.1 L182.8,158.7 L183.5,159.1 L184.2,159.5 L185.0,159.7 L185.8,159.4 L186.5,158.8 L187.2,158.5 L188.0,158.4 L188.8,158.5 L189.5,158.7 L190.2,158.8 L191.0,159.2 L191.8,159.8 L192.5,160.0 L193.2,159.9 L194.0,159.8 L194.8,159.8 L195.5,159.9 L196.2,159.9 L197.0,159.6 L197.8,158.9 L198.5,158.4 L199.2,158.3 L200.0,158.7 L200.8,159.3 L201.5,159.5 L202.2,159.1 L203.0,158.8 L203.8,158.5 L204.5,158.3 L205.2,158.2 L206.0,158.2 L206.8,158.2 L207.5,158.5 L208.2,158.6 L209.0,158.4 L209.8,158.2 L210.5,158.5 L211.2,159.1 L212.0,159.3 L212.8,159.5 L213.5,159.4 L214.2,158.9 L215.0,158.9 L215.8,159.5 L216.5,159.6 L217.2,159.2 L218.0,159.1 L218.8,159.5 L219.5,159.9 L220.2,159.9 L221.0,159.4 L221.8,159.0 L222.5,159.1 L223.2,159.2 L224.0,158.6 L224.8,158.0 L225.5,158.4 L226.2,159.2 L227.0,159.6 L227.8,159.4 L228.5,159.3 L229.2,159.7 L230.0,159.9 L230.8,159.8 L231.5,159.7 L232.2,159.4 L233.0,159.1 L233.8,158.9 L234.5,158.8 L235.2,158.9 L236.0,159.0 L236.8,159.1 L237.5,159.4 L238.2,159.5 L239.0,159.1 L239.8,158.7 L240.5,158.9 L241.2,159.3 L242.0,159.6 L242.8,159.6 L243.5,159.5 L244.2,159.1 L245.0,158.8 L245.8,158.8 L246.5,159.2 L247.2,159.5 L248.0,159.6 L248.8,159.8 L249.5,159.3 L250.2,158.6 L251.0,158.7 L251.8,159.4 L252.5,160.5 L253.2,161.0 L254.0,160.5 L254.8,160.2 L255.5,160.3 L256.2,160.7 L257.0,161.1 L257.8,161.2 L258.5,161.2 L259.2,161.3 L260.0,161.4 L260.8,161.8 L261.5,162.2 L262.2,162.2 L263.0,161.8 L263.8,161.8 L264.5,162.2 L265.2,162.8 L266.0,163.2 L266.8,163.4 L267.5,163.9 L268.2,164.5 L269.0,165.0 L269.8,165.5 L270.5,166.0 L271.2,166.3 L272.0,166.5 L272.8,166.9 L273.5,167.0 L274.2,167.1 L275.0,167.4 L275.8,167.8 L276.5,168.1 L277.2,168.6 L278.0,169.2 L278.8,170.0 L279.5,170.7 L280.2,171.4 L281.0,172.1 L281.8,172.8 L282.5,173.4 L283.2,174.0 L284.0,174.6 L284.8,175.4 L285.5,176.3 L286.2,177.5 L287.0,179.8 L287.8,182.3 L288.5,184.1 L289.2,185.4 L290.0,186.6 L290.8,187.8 L291.5,189.0 L292.2,190.5 L293.0,192.3 L293.8,194.3 L294.5,196.3 L295.2,198.2 L296.0,200.0 L296.8,201.4 L297.5,202.7 L298.2,204.1 L299.0,206.0 L299.8,209.8 L300.5,214.9 L301.2,219.3 L302.0,222.7 L302.8,225.9 L303.5,229.4 L304.2,233.5 L305.0,238.5 L305.8,244.2 L306.5,250.1 L307.2,255.9 L308.0,261.7 L308.8,267.7 L309.5,273.8 L310.2,280.2 L311.0,287.0 L311.8,293.8 L312.5,300.0 L313.2,305.8 L314.0,313.8 L314.8,324.2 L315.5,331.7 L316.2,337.7 L317.0,343.0 L317.8,348.1 L318.5,352.7 L319.2,356.0 L320.0,358.8 L320.8,360.5 L321.5,360.3 L322.2,359.0 L323.0,357.0 L323.8,353.5 L324.5,348.4 L325.2,343.4 L326.0,338.4 L326.8,333.2 L327.5,328.2 L328.2,323.5 L329.0,319.2 L329.8,315.1 L330.5,311.0 L331.2,306.4 L332.0,301.5 L332.8,296.4 L333.5,291.3 L334.2,286.4 L335.0,281.8 L335.8,277.2 L336.5,272.7 L337.2,268.3 L338.0,264.0 L338.8,259.7 L339.5,255.4 L340.2,251.2 L341.0,247.1 L341.8,243.3 L342.5,239.6 L343.2,236.3 L344.0,233.1 L344.8,229.9 L345.5,226.5 L346.2,222.6 L347.0,217.8 L347.8,213.2 L348.5,209.8 L349.2,206.8 L350.0,204.2 L350.8,201.7 L351.5,199.5 L352.2,197.3 L353.0,195.1 L353.8,193.0 L354.5,191.1 L355.2,189.4 L356.0,188.0 L356.8,186.8 L357.5,185.8 L358.2,184.9 L359.0,184.1 L359.8,183.3 L360.5,182.5 L361.2,181.7 L362.0,181.0 L362.8,180.3 L363.5,179.6 L364.2,178.7 L365.0,177.6 L365.8,176.3 L366.5,175.1 L367.2,173.9 L368.0,173.0 L368.8,172.3 L369.5,171.7 L370.2,171.1 L371.0,170.3 L371.8,169.7 L372.5,169.5 L373.2,169.3 L374.0,169.0 L374.8,169.0 L375.5,169.0 L376.2,168.8 L377.0,168.6 L377.8,168.8 L378.5,168.8 L379.2,168.3 L380.0,168.0 L380.8,167.8 L381.5,167.7 L382.2,167.2 L383.0,166.7 L383.8,166.5 L384.5,166.5 L385.2,166.7 L386.0,166.7 L386.8,166.2 L387.5,165.3 L388.2,164.7 L389.0,164.8 L389.8,165.3 L390.5,166.0 L391.2,166.5 L392.0,166.2 L392.8,165.8 L393.5,165.5 L394.2,165.3 L395.0,165.0 L395.8,164.9 L396.5,165.1 L397.2,165.5 L398.0,165.7 L398.8,165.5 L399.5,165.2 L400.2,165.0 L401.0,165.1 L401.8,165.2 L402.5,165.3 L403.2,164.9 L404.0,164.5 L404.8,164.6 L405.5,164.9 L406.2,164.8 L407.0,164.9 L407.8,165.3 L408.5,165.3 L409.2,165.0 L410.0,165.0 L410.8,165.3 L411.5,165.1 L412.2,164.5 L413.0,163.8 L413.8,163.2 L414.5,163.2 L415.2,163.8 L416.0,164.0 L416.8,163.5 L417.5,163.0 L418.2,162.8 L419.0,162.9 L419.8,163.4 L420.5,164.3 L421.2,165.2 L422.0,165.4 L422.8,164.6 L423.5,163.4 L424.2,162.2 L425.0,161.7 L425.8,162.3 L426.5,163.3 L427.2,164.0 L428.0,164.1 L428.8,164.0 L429.5,164.0 L430.2,164.1 L431.0,163.8 L431.8,163.1 L432.5,162.7 L433.2,163.1 L434.0,163.9 L434.8,164.2 L435.5,163.7 L436.2,163.1 L437.0,163.0 L437.8,163.1 L438.5,163.2 L439.2,163.2 L440.0,163.3 L440.8,163.4 L441.5,163.6 L442.2,163.5 L443.0,163.3 L443.8,163.3 L444.5,163.5 L445.2,163.7 L446.0,163.8 L446.8,163.7 L447.5,163.5 L448.2,163.5 L449.0,163.8 L449.8,164.1 L450.5,164.3 L451.2,164.1 L452.0,163.6 L452.8,163.5 L453.5,163.7 L454.2,163.8 L455.0,164.0 L455.8,164.5 L456.5,164.7 L457.2,164.6 L458.0,164.5 L458.8,164.4 L459.5,164.4 L460.2,164.6 L461.0,164.7 L461.8,164.6 L462.5,164.2 L463.2,164.1 L464.0,164.4 L464.8,164.6 L465.5,164.4 L466.2,164.6 L467.0,165.2 L467.8,165.6 L468.5,165.3 L469.2,164.8 L470.0,164.2 L470.8,163.7 L471.5,163.9 L472.2,164.5 L473.0,164.8 L473.8,164.6 L474.5,164.3 L475.2,164.3 L476.0,164.4 L476.8,164.3 L477.5,164.1 L478.2,164.0 L479.0,164.5 L479.8,165.3 L480.5,165.8 L481.2,165.7 L482.0,165.5 L482.8,165.6 L483.5,165.9 L484.2,165.9 L485.0,165.6 L485.8,165.1 L486.5,164.8 L487.2,164.8 L488.0,164.8 L488.8,164.4 L489.5,163.7 L490.2,163.2 L491.0,163.1 L491.8,163.4 L492.5,163.9 L493.2,164.0 L494.0,164.1 L494.8,164.7 L495.5,165.2 L496.2,165.5 L497.0,165.8 L497.8,165.6 L498.5,165.0 L499.2,165.0 L500.0,165.1 L500.8,165.1 L501.5,164.8 L502.2,164.3 L503.0,163.9 L503.8,163.8 L504.5,163.8 L505.2,163.7 L506.0,163.6 L506.8,163.8 L507.5,164.4 L508.2,164.5 L509.0,164.1 L509.8,163.6 L510.5,163.6 L511.2,163.9 L512.0,164.2 L512.8,164.5 L513.5,164.7 L514.2,164.7 L515.0,164.6 L515.8,164.7 L516.5,164.7 L517.2,164.8 L518.0,165.0 L518.8,165.0 L519.5,164.8 L520.2,164.8 L521.0,165.0 L521.8,165.3 L522.5,165.3 L523.2,165.2 L524.0,165.1 L524.8,165.1 L525.5,164.9 L526.2,164.3 L527.0,164.0 L527.8,164.4 L528.5,164.5" stroke="#7E2F8E" stroke-width="2.4" fill="none" stroke-linejoin="round" stroke-linecap="butt"/>
<path d="M71.0,375.0 L71.8,373.1 L72.5,371.2 L72.6,371.0 L73.2,369.2 L74.0,367.6 L74.2,367.5 L74.8,368.7 L75.4,371.0 L75.5,371.3 L76.2,373.3 L76.5,373.5 L77.0,372.1 L77.5,370.0 L77.8,369.2 L78.5,367.5 L79.2,370.9 L79.6,372.0 L80.0,371.2 L80.8,368.3 L81.0,368.0 L81.5,371.2 L81.9,373.5 L82.2,372.7 L82.4,372.0 L83.0,338.4 L83.8,262.1 L83.9,250.0 L84.5,200.2 L85.2,147.5 L85.6,139.5 L86.0,143.5 L86.8,159.2 L86.8,160.0 L87.5,171.0 L87.7,172.0 L88.2,170.1 L89.0,164.2 L89.8,159.4 L90.0,159.0 L90.5,159.7 L91.2,162.8 L92.0,166.4 L92.8,168.8 L93.0,169.0 L93.5,168.3 L94.2,166.0 L95.0,164.0 L95.8,163.1 L96.5,162.4 L97.2,161.9 L97.4,162.0 L98.0,161.9 L98.8,162.0 L99.5,162.3 L100.2,162.4 L101.0,162.2 L101.8,162.2 L102.5,162.0 L103.2,161.7 L104.0,161.6 L104.8,161.4 L105.5,161.6 L106.2,162.1 L107.0,162.8 L107.8,162.9 L108.5,162.7 L109.2,162.5 L110.0,162.4 L110.8,162.3 L111.5,162.5 L112.2,162.8 L113.0,162.9 L113.8,162.3 L114.5,161.8 L115.2,161.8 L116.0,161.5 L116.8,160.8 L117.5,160.7 L118.2,161.6 L119.0,162.4 L119.8,162.7 L120.5,162.8 L121.2,162.8 L122.0,162.4 L122.8,162.0 L123.5,161.6 L124.2,161.7 L125.0,161.9 L125.8,161.7 L126.5,161.4 L127.2,161.4 L128.0,161.4 L128.8,161.3 L129.5,161.3 L130.2,161.0 L131.0,160.7 L131.8,161.1 L132.5,161.5 L133.2,161.5 L134.0,161.6 L134.8,161.9 L135.5,161.7 L136.2,161.3 L137.0,161.3 L137.8,161.6 L138.5,161.7 L139.2,161.3 L140.0,161.4 L140.8,162.0 L141.5,162.3 L142.2,162.0 L143.0,161.7 L143.8,161.7 L144.5,161.8 L145.2,161.7 L146.0,161.3 L146.8,161.2 L147.5,161.2 L148.2,161.2 L149.0,161.4 L149.8,161.5 L150.5,161.4 L151.2,161.3 L152.0,161.1 L152.8,161.4 L153.5,161.8 L154.2,162.0 L155.0,161.7 L155.8,161.0 L156.5,160.9 L157.2,161.5 L158.0,162.3 L158.8,162.7 L159.5,162.3 L160.2,161.7 L161.0,161.4 L161.8,161.2 L162.5,161.6 L163.2,162.4 L164.0,162.6 L164.8,162.5 L165.5,162.6 L166.2,162.7 L167.0,162.5 L167.8,162.0 L168.5,161.3 L169.2,161.4 L170.0,162.2 L170.8,162.6 L171.5,162.4 L172.2,162.0 L173.0,161.7 L173.8,161.9 L174.5,162.3 L175.2,162.4 L176.0,162.3 L176.8,162.3 L177.5,162.4 L178.2,162.2 L179.0,161.9 L179.8,161.7 L180.5,162.1 L181.2,162.4 L182.0,162.1 L182.8,161.9 L183.5,162.2 L184.2,162.3 L185.0,161.8 L185.8,161.2 L186.5,161.1 L187.2,161.0 L188.0,161.1 L188.8,161.5 L189.5,162.0 L190.2,162.8 L191.0,163.4 L191.8,163.0 L192.5,162.1 L193.2,161.3 L194.0,160.9 L194.8,160.7 L195.5,160.7 L196.2,160.8 L197.0,160.9 L197.8,160.9 L198.5,160.7 L199.2,160.5 L200.0,160.8 L200.8,161.5 L201.5,162.1 L202.2,162.4 L203.0,162.4 L203.8,162.0 L204.5,161.8 L205.2,162.0 L206.0,162.6 L206.8,162.6 L207.5,161.8 L208.2,161.3 L209.0,161.0 L209.8,160.9 L210.5,161.2 L211.2,161.7 L212.0,161.9 L212.8,161.8 L213.5,161.8 L214.2,161.6 L215.0,161.5 L215.8,161.4 L216.5,161.4 L217.2,161.6 L218.0,162.0 L218.8,162.4 L219.5,162.5 L220.2,162.4 L221.0,162.0 L221.8,161.6 L222.5,161.2 L223.2,161.2 L224.0,161.6 L224.8,161.9 L225.5,161.9 L226.2,161.9 L227.0,161.9 L227.8,162.0 L228.5,162.2 L229.2,162.0 L230.0,161.9 L230.8,162.3 L231.5,162.3 L232.2,161.7 L233.0,161.0 L233.8,160.7 L234.5,161.1 L235.2,161.6 L236.0,161.6 L236.8,161.6 L237.5,162.0 L238.2,162.4 L239.0,162.3 L239.8,162.4 L240.5,162.7 L241.2,162.7 L242.0,162.2 L242.8,161.5 L243.5,161.1 L244.2,161.2 L245.0,161.6 L245.8,162.1 L246.5,162.5 L247.2,162.7 L248.0,162.6 L248.8,162.1 L249.5,161.4 L250.2,161.0 L251.0,161.2 L251.8,161.5 L252.5,161.7 L253.2,161.7 L254.0,161.6 L254.8,161.7 L255.5,162.1 L256.2,162.4 L257.0,162.5 L257.8,162.6 L258.5,162.4 L259.2,162.4 L260.0,163.0 L260.8,163.4 L261.5,163.5 L262.2,163.8 L263.0,164.1 L263.8,163.9 L264.5,163.7 L265.2,163.7 L266.0,163.4 L266.8,163.0 L267.5,163.0 L268.2,163.2 L269.0,163.2 L269.8,163.3 L270.5,163.2 L271.2,162.8 L272.0,162.8 L272.8,163.3 L273.5,163.6 L274.2,163.5 L275.0,163.3 L275.8,163.5 L276.5,163.8 L277.2,163.6 L278.0,163.0 L278.8,162.7 L279.5,162.4 L280.2,162.2 L281.0,162.5 L281.8,163.0 L282.5,163.1 L283.2,163.2 L284.0,163.8 L284.8,164.3 L285.5,164.1 L286.2,163.8 L287.0,163.9 L287.8,164.1 L288.5,164.0 L289.2,164.2 L290.0,164.8 L290.8,164.8 L291.5,163.8 L292.2,163.0 L293.0,163.2 L293.8,163.9 L294.5,164.7 L295.2,165.2 L296.0,165.1 L296.8,165.1 L297.5,165.1 L298.2,165.2 L299.0,165.6 L299.8,166.4 L300.5,167.2 L301.2,167.0 L302.0,166.3 L302.8,166.1 L303.5,166.2 L304.2,166.5 L305.0,167.0 L305.8,167.7 L306.5,168.3 L307.2,168.5 L308.0,168.5 L308.8,168.6 L309.5,169.1 L310.2,169.8 L311.0,170.5 L311.8,171.0 L312.5,171.4 L313.2,171.8 L314.0,172.0 L314.8,172.0 L315.5,172.0 L316.2,172.6 L317.0,173.6 L317.8,174.3 L318.5,174.7 L319.2,174.8 L320.0,175.0 L320.8,175.2 L321.5,175.7 L322.2,176.3 L323.0,176.7 L323.8,176.9 L324.5,177.3 L325.2,177.8 L326.0,178.2 L326.8,178.6 L327.5,179.2 L328.2,179.7 L329.0,180.1 L329.8,180.6 L330.5,180.9 L331.2,180.8 L332.0,180.7 L332.8,180.4 L333.5,180.5 L334.2,181.0 L335.0,181.8 L335.8,182.5 L336.5,183.3 L337.2,184.3 L338.0,185.3 L338.8,186.3 L339.5,187.4 L340.2,188.3 L341.0,189.2 L341.8,190.1 L342.5,191.0 L343.2,192.0 L344.0,193.0 L344.8,194.1 L345.5,195.3 L346.2,196.5 L347.0,197.9 L347.8,199.4 L348.5,201.3 L349.2,203.6 L350.0,206.3 L350.8,209.1 L351.5,211.9 L352.2,214.9 L353.0,218.0 L353.8,220.9 L354.5,224.3 L355.2,228.2 L356.0,232.0 L356.8,235.6 L357.5,239.1 L358.2,242.5 L359.0,246.0 L359.8,249.6 L360.5,253.1 L361.2,256.7 L362.0,260.0 L362.8,262.8 L363.5,265.3 L364.2,268.1 L365.0,272.0 L365.8,278.8 L366.5,288.0 L367.2,299.2 L368.0,312.0 L368.8,324.3 L369.5,333.8 L370.2,343.0 L371.0,351.0 L371.8,357.7 L372.5,361.0 L373.2,361.7 L374.0,362.0 L374.8,361.9 L375.5,361.6 L376.2,361.2 L377.0,360.9 L377.8,360.6 L378.5,360.4 L379.2,360.3 L380.0,360.4 L380.8,360.8 L381.5,361.3 L382.2,361.6 L383.0,361.6 L383.8,361.5 L384.5,361.4 L385.2,361.6 L386.0,361.9 L386.8,362.1 L387.5,362.1 L388.2,361.9 L389.0,362.0 L389.8,362.2 L390.5,362.2 L391.2,362.2 L392.0,362.1 L392.8,362.0 L393.5,361.8 L394.2,361.7 L395.0,361.6 L395.8,361.7 L396.5,361.7 L397.2,361.7 L398.0,361.8 L398.8,362.0 L399.5,362.0 L400.2,361.8 L401.0,361.6 L401.8,361.6 L402.5,361.7 L403.2,361.9 L404.0,362.1 L404.8,362.3 L405.5,362.5 L406.2,362.4 L407.0,362.3 L407.8,362.1 L408.5,362.2 L409.2,362.3 L410.0,362.2 L410.8,362.1 L411.5,362.2 L412.2,362.3 L413.0,362.3 L413.8,362.0 L414.5,361.8 L415.2,361.9 L416.0,362.1 L416.8,362.1 L417.5,361.8 L418.2,361.8 L419.0,361.6 L419.8,361.3 L420.5,361.2 L421.2,361.4 L422.0,361.8 L422.8,361.9 L423.5,362.0 L424.2,362.0 L425.0,361.9 L425.8,361.6 L426.5,361.6 L427.2,361.6 L428.0,361.6 L428.8,361.7 L429.5,361.8 L430.2,361.7 L431.0,361.7 L431.8,361.9 L432.5,362.1 L433.2,361.8 L434.0,361.7 L434.8,361.9 L435.5,362.1 L436.2,362.1 L437.0,362.0 L437.8,361.9 L438.5,361.8 L439.2,361.6 L440.0,361.7 L440.8,362.0 L441.5,362.2 L442.2,362.2 L443.0,362.2 L443.8,362.2 L444.5,362.2 L445.2,362.0 L446.0,361.7 L446.8,361.6 L447.5,361.7 L448.2,361.7 L449.0,361.8 L449.8,361.8 L450.5,361.9 L451.2,361.9 L452.0,361.9 L452.8,361.9 L453.5,362.2 L454.2,362.5 L455.0,362.3 L455.8,362.2 L456.5,362.3 L457.2,362.3 L458.0,362.0 L458.8,361.9 L459.5,362.0 L460.2,362.1 L461.0,362.2 L461.8,362.1 L462.5,362.0 L463.2,361.9 L464.0,361.8 L464.8,361.8 L465.5,361.8 L466.2,361.8 L467.0,361.9 L467.8,362.1 L468.5,362.0 L469.2,361.9 L470.0,362.0 L470.8,362.0 L471.5,362.0 L472.2,362.1 L473.0,362.1 L473.8,362.0 L474.5,362.0 L475.2,362.1 L476.0,362.1 L476.8,361.9 L477.5,361.8 L478.2,361.9 L479.0,361.8 L479.8,361.9 L480.5,362.2 L481.2,362.4 L482.0,362.5 L482.8,362.4 L483.5,362.2 L484.2,362.2 L485.0,362.3 L485.8,362.4 L486.5,362.3 L487.2,362.2 L488.0,362.3 L488.8,362.3 L489.5,362.2 L490.2,361.9 L491.0,361.8 L491.8,361.9 L492.5,361.8 L493.2,361.7 L494.0,361.7 L494.8,361.9 L495.5,362.1 L496.2,362.3 L497.0,362.4 L497.8,362.5 L498.5,362.7 L499.2,362.8 L500.0,362.6 L500.8,362.2 L501.5,361.7 L502.2,361.4 L503.0,361.7 L503.8,362.1 L504.5,362.3 L505.2,362.2 L506.0,362.2 L506.8,362.1 L507.5,361.9 L508.2,361.6 L509.0,361.7 L509.8,361.9 L510.5,362.1 L511.2,362.0 L512.0,362.0 L512.8,362.2 L513.5,362.3 L514.2,362.4 L515.0,362.4 L515.8,362.3 L516.5,362.0 L517.2,361.7 L518.0,361.8 L518.8,362.1 L519.5,362.2 L520.2,362.1 L521.0,362.0 L521.8,361.9 L522.5,361.9 L523.2,361.9 L524.0,362.1 L524.8,362.3 L525.5,362.2 L526.2,361.8 L527.0,361.6 L527.8,361.8 L528.5,362.0" stroke="#77AC30" stroke-width="2.4" fill="none" stroke-linejoin="round" stroke-linecap="butt"/>
<path d="M71.0,33.0 V375.5 H529.4 M70.5,375.0 v-5 M172.5,375.0 v-5 M274.5,375.0 v-5 M376.5,375.0 v-5 M478.5,375.0 v-5 M71.0,375.5 h5 M71.0,306.5 h5 M71.0,238.5 h5 M71.0,169.5 h5 M71.0,101.5 h5 M71.0,33.5 h5" stroke="#2e2e2e" stroke-width="1.2" fill="none"/>
<g font-size="22.4" fill="#262626">
<text x="71.0" y="405.5" text-anchor="middle">0</text>
<text x="172.9" y="405.5" text-anchor="middle">2</text>
<text x="274.7" y="405.5" text-anchor="middle">4</text>
<text x="376.6" y="405.5" text-anchor="middle">6</text>
<text x="478.5" y="405.5" text-anchor="middle">8</text>
<text x="63" y="384.5" text-anchor="end">0</text>
<text x="63" y="316.1" text-anchor="end">0.1</text>
<text x="63" y="247.7" text-anchor="end">0.2</text>
<text x="63" y="179.3" text-anchor="end">0.3</text>
<text x="63" y="110.9" text-anchor="end">0.4</text>
<text x="63" y="42.5" text-anchor="end">0.5</text>
</g>
<text x="299.5" y="434.5" font-size="22.4" fill="#262626" text-anchor="middle">Time (s)</text>
<text transform="translate(22,204) rotate(-90)" font-size="22.4" fill="#262626" text-anchor="middle">Voltage (V)</text>
<text x="299.4" y="22.6" font-size="22.4" font-weight="bold" fill="#000" text-anchor="middle">Output from the magnetic sensor array</text>
<rect x="132" y="43.5" width="385" height="39" fill="#fff" stroke="#262626" stroke-width="1"/>
<path d="M136.4,63 h42.2" stroke="#0072BD" stroke-width="2.4" fill="none"/>
<text x="181.6" y="68.2" font-size="20" fill="#000">S<tspan font-size="17" dx="0.3" dy="8.8">1</tspan></text>
<path d="M213.3,63 h42.2" stroke="#D95319" stroke-width="2.4" fill="none"/>
<text x="258.5" y="68.2" font-size="20" fill="#000">S<tspan font-size="17" dx="0.3" dy="8.8">2</tspan></text>
<path d="M290.2,63 h42.2" stroke="#EDB120" stroke-width="2.4" fill="none"/>
<text x="335.4" y="68.2" font-size="20" fill="#000">S<tspan font-size="17" dx="0.3" dy="8.8">3</tspan></text>
<path d="M367.1,63 h42.2" stroke="#7E2F8E" stroke-width="2.4" fill="none"/>
<text x="412.3" y="68.2" font-size="20" fill="#000">S<tspan font-size="17" dx="0.3" dy="8.8">4</tspan></text>
<path d="M444.0,63 h42.2" stroke="#77AC30" stroke-width="2.4" fill="none"/>
<text x="489.2" y="68.2" font-size="20" fill="#000">S<tspan font-size="17" dx="0.3" dy="8.8">5</tspan></text>
</svg>
</body></html>
